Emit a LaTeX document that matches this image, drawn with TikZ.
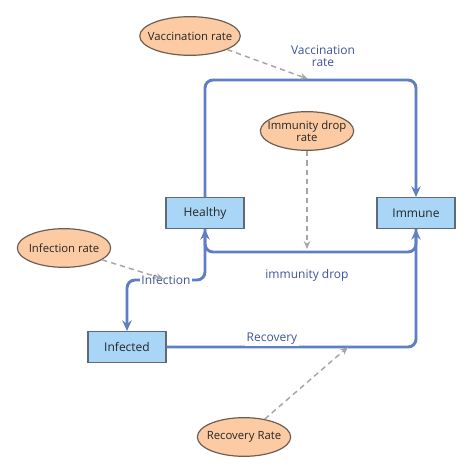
\documentclass[tikz,border=0pt]{standalone}
\usepackage{fontspec}
\setmainfont{Open Sans}
\usepackage{xcolor}
\usepackage{tikz}
\usetikzlibrary{shapes,arrows.meta,positioning,calc}

\definecolor{flowblue}{HTML}{5F7FC4}
\definecolor{labelblue}{HTML}{3E5496}
\definecolor{stockfill}{HTML}{A9D5F7}
\definecolor{stockline}{HTML}{5E6A78}
\definecolor{ratefill}{HTML}{FDCBA3}
\definecolor{rateline}{HTML}{6E5E52}
\definecolor{dashgray}{HTML}{A6A6A6}

\begin{document}
\begin{tikzpicture}[
    x=0.75pt, y=-0.75pt,
    stock/.style={rectangle, draw=stockline, line width=0.9pt, fill=stockfill, minimum width=58.5pt, minimum height=23pt, font=\small, text=black!85},
    rate/.style={ellipse, draw=rateline, line width=0.9pt, fill=ratefill, minimum width=70pt, minimum height=29pt, inner xsep=-5pt, inner ysep=0pt, font=\fontsize{8.5}{10}\selectfont, align=center, text=black!85},
    flow/.style={-{Stealth[length=8pt,width=7pt]}, draw=flowblue, line width=2.2pt, rounded corners=6pt},
    flowline/.style={draw=flowblue, line width=2.2pt, rounded corners=6pt},
    dashflow/.style={-{Stealth[length=6pt,width=5pt]}, draw=dashgray, line width=1.1pt, dash pattern=on 4pt off 3pt},
    flowlabel/.style={font=\small, text=labelblue, align=center},
]
\useasboundingbox (0,0) rectangle (474,474);

% Stocks
\node[stock] (healthy) at (205,213) {Healthy};
\node[stock] (immune) at (416,213) {Immune};
\node[stock] (infected) at (127,347) {Infected};

% Rates
\node[rate] (vacc) at (190,36) {Vaccination rate};
\node[rate] (drop) at (307,131) {Immunity drop\\[-1pt]rate};
\node[rate] (infrate) at (64,248) {Infection rate};
\node[rate] (recrate) at (244,437) {Recovery Rate};

% Bend points and rate targets
\coordinate (vtop) at (310,80);
\coordinate (dropline) at (310,252);
\coordinate (infpt) at (166,280);
\coordinate (vtip) at (308,79);
\coordinate (droptip) at (307,249);
\coordinate (inftip) at (164,279);
\coordinate (rectip) at (348,347);

% Flows
\draw[flow] (healthy.north) |- (vtop) -| (immune.north);
\draw[flowline] (immune.south) |- (dropline);
\draw[flow] (dropline) -| (healthy.south);
\draw[flow] (healthy.south) |- (infpt) -| (infected.north);
\draw[flow] (infected.east) -| (immune.south);

% Flow labels
\node[flowlabel] (vacclabel) at (323,56) {Vaccination\\[-2pt]rate};
\node[flowlabel, fill=white, inner sep=1pt] (inflabel) at (infpt) {Infection};
\node[flowlabel] (droplabel) at (307,275) {immunity drop};
\node[flowlabel, fill=white, inner sep=1pt] (reclabel) at (272,339) {Recovery};

% Rate links
\draw[dashflow] (vacc) -- (vtip);
\draw[dashflow] (drop.south) -- (droptip);
\draw[dashflow] (infrate) -- (inftip);
\draw[dashflow] (recrate) -- (rectip);

\end{tikzpicture}
\end{document}
